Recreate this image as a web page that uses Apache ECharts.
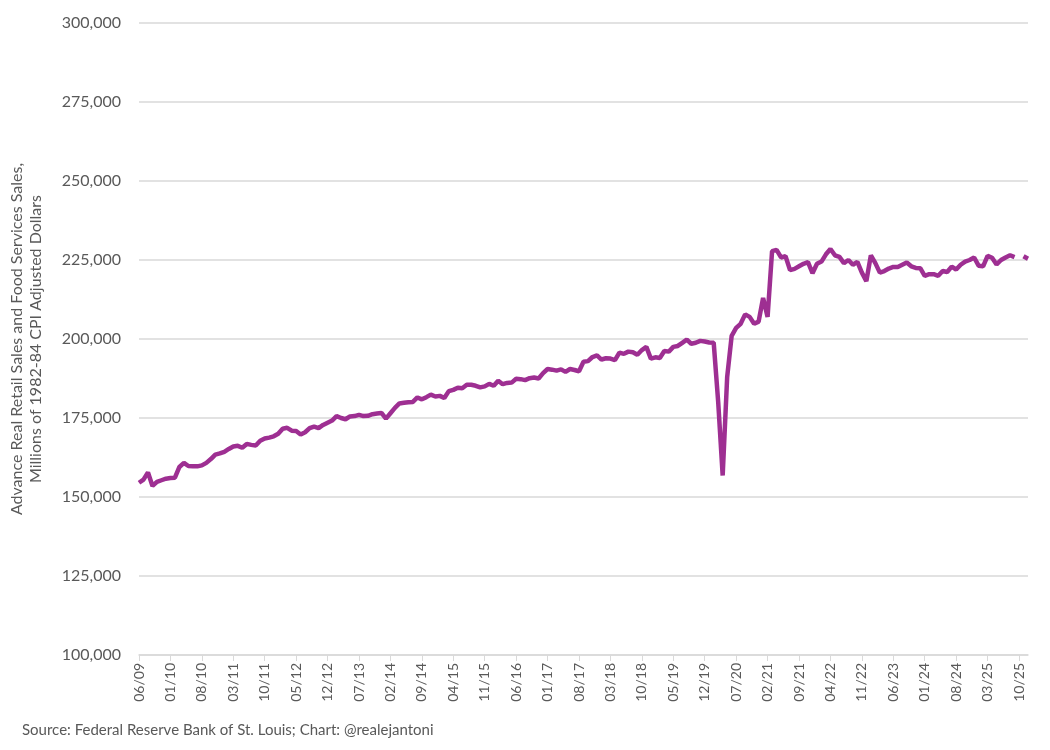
<!DOCTYPE html>
<html><head><meta charset="utf-8">
<script src="https://cdn.jsdelivr.net/npm/echarts@6/dist/echarts.min.js"></script>
<style>html,body{margin:0;padding:0;background:#fff}#c{width:1050px;height:750px}</style>
</head><body><div id="c"></div>
<script>
const startYear = 2009, startMonth = 6;
// thousands of 1982-84 CPI adjusted dollars, monthly from 06/2009 to 12/2025
const valuesK = [
154.5,155.5,157.8,153.5,154.8,155.3,155.8,
156.0,156.1,159.5,160.8,159.8,159.7,159.7,160.0,160.8,162.0,163.4,163.8,
164.3,165.2,166.0,166.2,165.6,166.8,166.5,166.3,167.8,168.5,168.8,169.2,
170.0,171.6,171.9,171.0,170.9,169.8,170.5,171.8,172.3,171.8,172.8,173.5,
174.2,175.6,175.0,174.6,175.5,175.6,176.0,175.6,175.7,176.2,176.4,176.6,
174.8,176.5,178.2,179.6,179.8,180.0,180.1,181.5,180.9,181.6,182.4,181.8,
182.0,181.3,183.5,183.9,184.6,184.4,185.5,185.5,185.2,184.7,185.0,185.8,
185.2,186.8,185.7,186.1,186.2,187.4,187.3,187.0,187.6,187.8,187.5,189.2,
190.5,190.3,190.0,190.4,189.6,190.5,190.2,189.8,192.8,193.0,194.3,194.8,
193.5,193.9,193.8,193.3,195.7,195.3,196.0,195.8,195.0,196.5,197.5,193.8,
194.2,194.0,196.2,196.0,197.5,197.8,198.8,199.8,198.5,198.8,199.4,199.2,
198.9,198.8,180.0,156.8,188.0,201.0,203.5,204.8,207.8,207.0,204.8,205.5,
213.0,207.0,227.8,228.2,225.8,226.2,221.8,222.2,223.0,223.8,224.3,220.8,
223.8,224.5,226.8,228.5,226.5,226.0,224.0,225.0,223.5,224.4,221.0,218.3,
226.5,224.0,221.0,221.5,222.3,222.8,222.8,223.5,224.2,223.0,222.5,222.4,
220.0,220.5,220.5,220.0,221.5,221.2,222.9,222.0,223.5,224.5,225.0,225.8,
223.2,223.0,226.3,225.7,223.6,225.0,225.8,226.5,225.9,null,226.2,225.4
];
const categories = valuesK.map((_, i) => {
  const m = (startMonth - 1 + i) % 12 + 1;
  const y = startYear + Math.floor((startMonth - 1 + i) / 12);
  return String(m).padStart(2,'0') + '/' + String(y % 100).padStart(2,'0');
});
const values = valuesK.map(v => v == null ? null : Math.round(v * 1000));
const yTicks = [100000, 125000, 150000, 175000, 200000, 225000, 250000, 275000, 300000];

const chart = echarts.init(document.getElementById('c'));
chart.setOption({
  animation: false,
  textStyle: {fontFamily: 'Lato, "Open Sans", sans-serif'},
  grid: {left: 139, right: 22, top: 23, bottom: 95, containLabel: false, outerBoundsMode: 'none'},
  xAxis: {
    type: 'category', data: categories, boundaryGap: false,
    axisLine: {lineStyle: {color: '#d9d9d9', width: 1.5}},
    axisTick: {show: true, interval: 6, length: 6, lineStyle: {color: '#d9d9d9'}},
    axisLabel: {interval: 6, rotate: 90, color: '#595959', fontSize: 14, margin: 8},
    splitLine: {show: false}
  },
  yAxis: {
    type: 'value', min: yTicks[0], max: yTicks[yTicks.length-1], interval: 25000,
    name: 'Advance Real Retail Sales and Food Services Sales,\nMillions of 1982-84 CPI Adjusted Dollars',
    nameLocation: 'middle', nameGap: 94, nameRotate: 90,
    nameTextStyle: {color: '#595959', fontSize: 16, lineHeight: 19},
    axisLine: {show: false}, axisTick: {show: false},
    axisLabel: {color: '#595959', fontSize: 16, margin: 18,
      formatter: v => v.toLocaleString('en-US')},
    splitLine: {lineStyle: {color: '#d9d9d9', width: 1.5}}
  },
  series: [{
    type: 'line', data: values, symbol: 'none', connectNulls: false,
    lineStyle: {color: '#9E2F92', width: 4.5}
  }],
  graphic: [{
    type: 'text', left: 22, top: 723,
    style: {text: 'Source: Federal Reserve Bank of St. Louis; Chart: @realejantoni',
      fill: '#595959', fontSize: 15, fontFamily: 'Lato, sans-serif'}
  }]
});
</script></body></html>
